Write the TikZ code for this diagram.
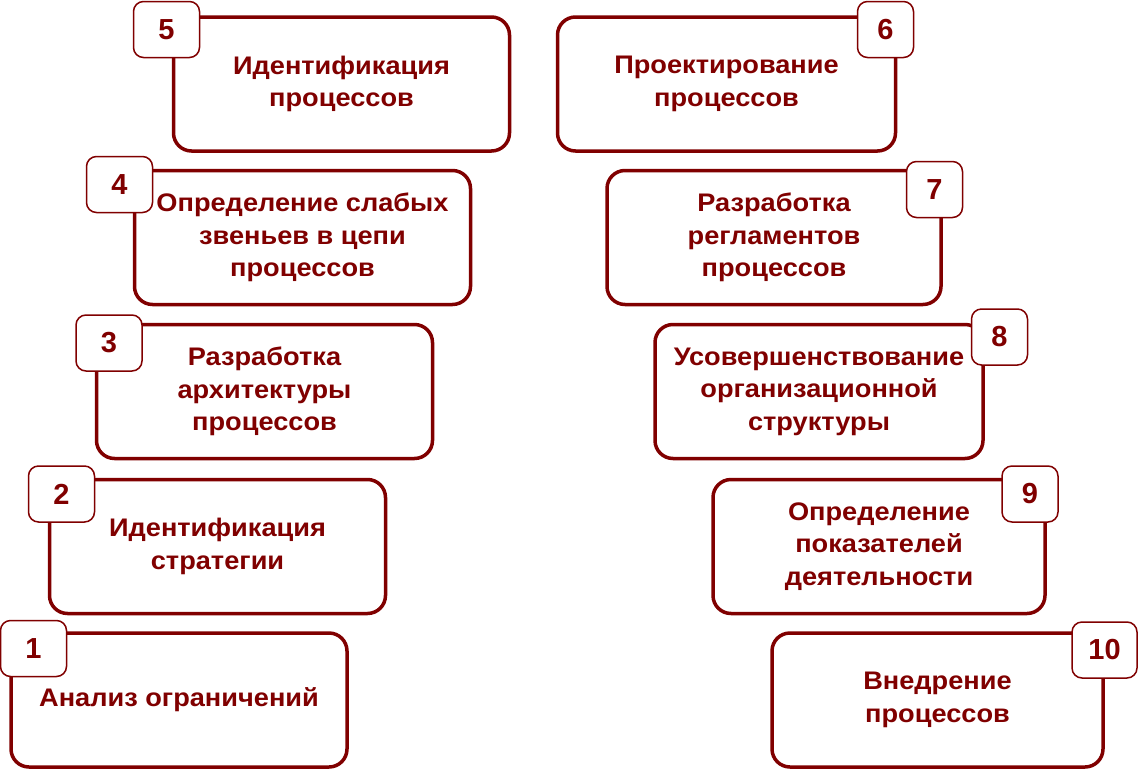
\documentclass[tikz,border=0pt]{standalone}
\usepackage{fontspec}
\setmainfont{Liberation Sans}
\newfontfamily\stagefont{Liberation Sans}[FakeStretch=1.07]
\definecolor{maroon}{RGB}{128,0,0}
\newcommand{\bigW}{168pt}
\newcommand{\bigH}{67pt}

\begin{document}
\begin{tikzpicture}[x=0.5pt,y=-0.5pt,
        stage/.style={draw=maroon, line width=1.75pt, rounded corners=9pt, fill=white,
            minimum width=\bigW, minimum height=\bigH, align=center, text=maroon,
            font=\stagefont\fontsize{12.7}{16.2}\selectfont\bfseries},
        num/.style={draw=maroon, line width=0.75pt, rounded corners=5pt, fill=white,
            minimum height=28pt, inner sep=0pt, text=maroon,
            font=\fontsize{14.5}{17}\selectfont\bfseries}]

        % Page frame
        \useasboundingbox (0,0) rectangle (1140,771);

        % Left column, steps 1 to 5
        \node[stage] (s1) at (179,700) {Анализ ограничений};
        \node[num, minimum width=33pt] (n1) at (33.5,648.5) {1};
        \node[stage] (s2) at (217.5,546.5) {Идентификация\\стратегии};
        \node[num, minimum width=33pt] (n2) at (61.5,494) {2};
        \node[stage] (s3) at (264.5,391.5) {Разработка\\архитектуры\\процессов};
        \node[num, minimum width=33pt] (n3) at (109,343) {3};
        \node[stage] (s4) at (302.5,237.5) {Определение слабых\\звеньев в цепи\\процессов};
        \node[num, minimum width=33pt] (n4) at (119.5,184.5) {4};
        \node[stage] (s5) at (341.5,84) {Идентификация\\процессов};
        \node[num, minimum width=33pt] (n5) at (166.5,29.5) {5};

        % Right column, steps 6 to 10
        \node[stage, minimum width=169pt] (s6) at (726.5,84) {Проектирование\\процессов};
        \node[num, minimum width=28pt] (n6) at (885.5,29.5) {6};
        \node[stage, minimum width=167pt] (s7) at (774,237.5) {Разработка\\регламентов\\процессов};
        \node[num, minimum width=28pt] (n7) at (934.5,189.5) {7};
        \node[stage, minimum width=164pt] (s8) at (819,391.5) {Усовершенствование\\организационной\\структуры};
        \node[num, minimum width=28pt] (n8) at (999.5,337) {8};
        \node[stage, minimum width=166pt] (s9) at (879,546.5) {Определение\\показателей\\деятельности};
        \node[num, minimum width=28pt] (n9) at (1030,494) {9};
        \node[stage, minimum width=165.5pt] (s10) at (937.5,700) {Внедрение\\процессов};
        \node[num, minimum width=32.5pt] (n10) at (1104.5,650) {10};
    \end{tikzpicture}
\end{document}
